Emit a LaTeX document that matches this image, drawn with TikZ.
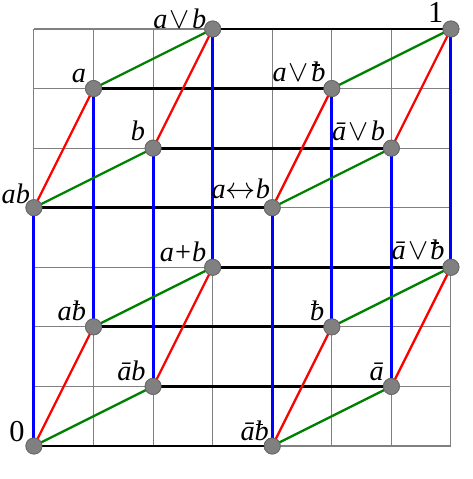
\documentclass[tikz,border=0pt]{standalone}
\usepackage{fontspec}
\setmainfont{Liberation Serif}
\newcommand{\bb}{\ooalign{\textit{b}\cr\kern0.03em\raisebox{0.56em}{\rule{0.27em}{0.045em}}\hidewidth\cr}}
\newcommand{\vv}{\kern0.08em$\vee$\kern0.08em}
\begin{document}
\begin{tikzpicture}[x=1cm,y=1cm,
  gridline/.style={draw={rgb,255:red,128;green,128;blue,128}, line width=0.5pt},
  hline/.style={draw=black, line width=1.4pt},
  vline/.style={draw={rgb,255:red,0;green,0;blue,255}, line width=1.4pt},
  rline/.style={draw={rgb,255:red,255;green,0;blue,0}, line width=1.1pt},
  gline/.style={draw={rgb,255:red,0;green,128;blue,0}, line width=1.1pt},
  dot/.style={circle, fill={rgb,255:red,128;green,128;blue,128}, draw={rgb,255:red,105;green,105;blue,105}, line width=0.4pt, minimum size=0.27cm, inner sep=0pt},
  lab/.style={anchor=base east, inner sep=0pt, font=\fontsize{13.5}{15}\selectfont\itshape},
  numlab/.style={anchor=base east, inner sep=0pt, font=\fontsize{14.5}{17}\selectfont}
]
\useasboundingbox (-0.570,-0.554) rectangle (7.369,7.487);
\draw[gridline] (0,0) grid (7,7);
% nodes
\node[dot] (n0) at (0,0) {};
\node[dot] (nab') at (1,2) {};
\node[dot] (na'b) at (2,1) {};
\node[dot] (naplusb) at (3,3) {};
\node[dot] (na'b') at (4,0) {};
\node[dot] (nb') at (5,2) {};
\node[dot] (na') at (6,1) {};
\node[dot] (na'orb') at (7,3) {};
\node[dot] (nab) at (0,4) {};
\node[dot] (na) at (1,6) {};
\node[dot] (nb) at (2,5) {};
\node[dot] (naorb) at (3,7) {};
\node[dot] (neq) at (4,4) {};
\node[dot] (naorb') at (5,6) {};
\node[dot] (na'orb) at (6,5) {};
\node[dot] (n1) at (7,7) {};
% black horizontal
\foreach \p/\q in {n0/na'b', nab'/nb', na'b/na', naplusb/na'orb', nab/neq, na/naorb', nb/na'orb, naorb/n1}
  \draw[hline] (\p.center) -- (\q.center);
% blue vertical
\foreach \p/\q in {n0/nab, nab'/na, na'b/nb, naplusb/naorb, na'b'/neq, nb'/naorb', na'/na'orb, na'orb'/n1}
  \draw[vline] (\p.center) -- (\q.center);
% red
\foreach \p/\q in {n0/nab', na'b/naplusb, na'b'/nb', na'/na'orb', nab/na, nb/naorb, neq/naorb', na'orb/n1}
  \draw[rline] (\p.center) -- (\q.center);
% green
\foreach \p/\q in {n0/na'b, nab'/naplusb, na'b'/na', nb'/na'orb', nab/nb, na/naorb, neq/na'orb, naorb'/n1}
  \draw[gline] (\p.center) -- (\q.center);
% redraw dots on top
\foreach \n in {n0,nab',na'b,naplusb,na'b',nb',na',na'orb',nab,na,nb,naorb,neq,naorb',na'orb,n1}
  \node[dot] at (\n) {};
% labels
\path (n0) ++(-0.15,0.07) node[numlab] (l0) {0};
\path (nab') ++(-0.12,0.1) node[lab] (lab') {a\bb};
\path (na'b) ++(-0.12,0.1) node[lab] (la'b) {āb};
\path (naplusb) ++(-0.1,0.1) node[lab] (laplusb) {a\kern0.04em{\upshape+}\kern0.04em b};
\path (na'b') ++(-0.05,0.09) node[lab] (la'b') {ā\bb};
\path (nb') ++(-0.12,0.1) node[lab] (lb') {\bb};
\path (na') ++(-0.12,0.1) node[lab] (la') {ā};
\path (na'orb') ++(-0.1,0.13) node[lab] (la'orb') {ā\vv\bb};
\path (nab) ++(-0.06,0.07) node[lab] (lab) {ab};
\path (na) ++(-0.12,0.1) node[lab] (la) {a};
\path (nb) ++(-0.13,0.12) node[lab] (lb) {b};
\path (naorb) ++(-0.1,0.01) node[lab] (laorb) {a\vv b};
\path (neq) ++(-0.03,0.15) node[lab] (leq) {a$\leftrightarrow$b};
\path (naorb') ++(-0.1,0.12) node[lab] (laorb') {a\vv\bb};
\path (na'orb) ++(-0.1,0.12) node[lab] (la'orb) {ā\vv b};
\path (n1) ++(-0.12,0.11) node[numlab] (l1) {1};
\end{tikzpicture}
\end{document}
